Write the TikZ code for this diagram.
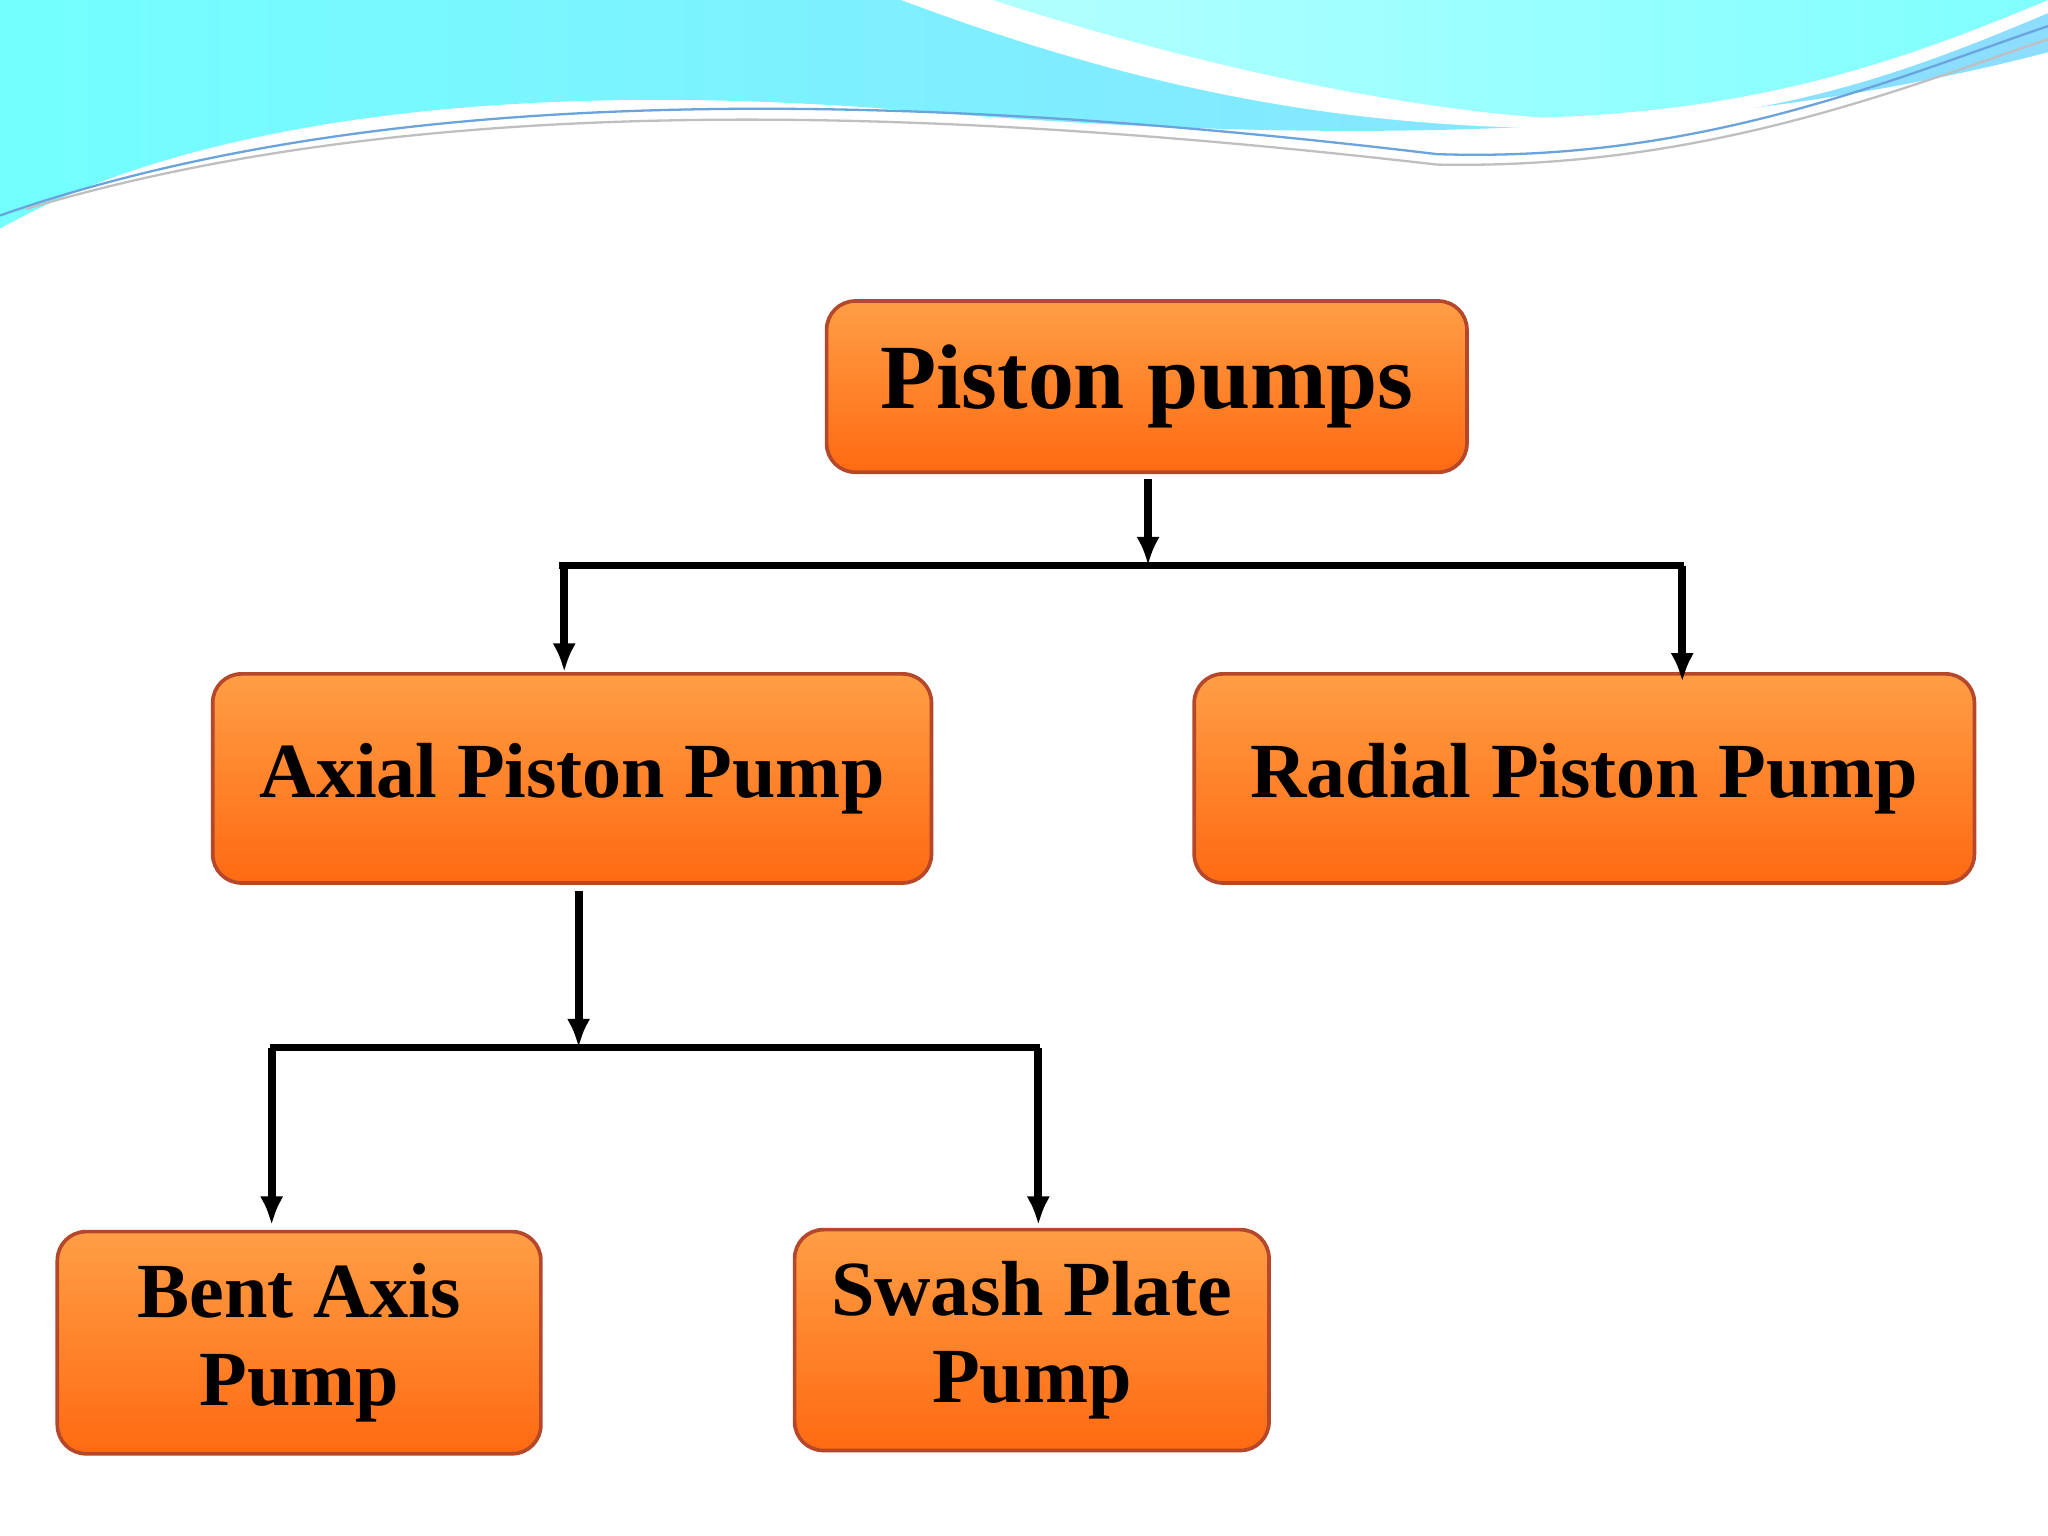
\documentclass[tikz,border=0pt]{standalone}
\usepackage{fontspec}
\setmainfont{Liberation Serif}
\usetikzlibrary{arrows.meta}
\definecolor{otop}{HTML}{FF9E45}
\definecolor{obot}{HTML}{FF6A12}
\definecolor{oedge}{HTML}{B5472A}
\begin{document}
\begin{tikzpicture}[x=0.01cm,y=-0.01cm,
  box/.style={draw=oedge,line width=0.8pt,rounded corners=0.22cm,top color=otop,bottom color=obot,
    font=\bfseries,align=center,text=black,inner sep=0pt},
  conn/.style={line width=1.7pt,black},
  arr/.style={conn,-{Latex[length=0.22cm,width=0.18cm]}}]
\useasboundingbox (0,0) rectangle (1568,1176);
\fill[white] (0,0) rectangle (1568,1176);
% header
\shade[left color=cyan!55!white,right color=blue!30!cyan!45!white]
  (0,0) -- (1568,0) -- (1568,40) .. controls (1300,110) and (1000,110) .. (700,85)
  .. controls (400,60) and (150,90) .. (0,175) -- cycle;
\fill[white] (690,0) .. controls (850,60) and (1000,95) .. (1180,98)
  .. controls (1350,95) and (1450,60) .. (1568,10) -- (1568,0) -- cycle;
\shade[left color=cyan!30!white,right color=cyan!50!white]
  (760,0) .. controls (900,45) and (1050,80) .. (1180,90)
  .. controls (1350,85) and (1460,45) .. (1568,0) -- cycle;
\draw[cyan!60!blue!60,line width=0.5pt] (0,165) .. controls (300,60) and (700,70) .. (1100,118) .. controls (1300,125) and (1450,60) .. (1568,20);
\draw[gray!50,line width=0.5pt] (20,160) .. controls (320,70) and (700,80) .. (1100,126) .. controls (1300,130) and (1450,70) .. (1568,30);
% boxes
\node[box,minimum width=490\pgflinewidth/0.8/0.8, minimum width=4.9cm,minimum height=1.31cm,font=\bfseries\fontsize{20}{22}\selectfont] (pp) at (878,296) {Piston pumps};
\node[box,minimum width=5.5cm,minimum height=1.6cm,font=\bfseries\fontsize{17}{20}\selectfont] (ax) at (438,596) {Axial Piston Pump};
\node[box,minimum width=5.97cm,minimum height=1.6cm,font=\bfseries\fontsize{17}{20}\selectfont] (ra) at (1213,596) {Radial Piston Pump};
\node[box,minimum width=3.7cm,minimum height=1.7cm,font=\bfseries\fontsize{17}{19}\selectfont] (ba) at (229,1028) {Bent Axis\\Pump};
\node[box,minimum width=3.63cm,minimum height=1.69cm,font=\bfseries\fontsize{17}{19}\selectfont] (sp) at (790,1026) {Swash Plate\\Pump};
% connectors
\coordinate (j1) at (879,433);
\coordinate (l1) at (428,433);
\coordinate (r1) at (1289,433);
\draw[arr] (pp.south) ++(1,4) -- (j1);
\draw[conn] (l1) -- (r1);
\draw[arr] (432,433) -- (ax.north -| 432,0);
\draw[arr] (1288,433) -- (1288,522);
\coordinate (j2) at (443,802);
\draw[arr] (443,682) -- (j2);
\draw[conn] (207,802) -- (796,802);
\draw[arr] (208,802) -- (208,938);
\draw[arr] (795,802) -- (795,938);
\end{tikzpicture}
\end{document}
